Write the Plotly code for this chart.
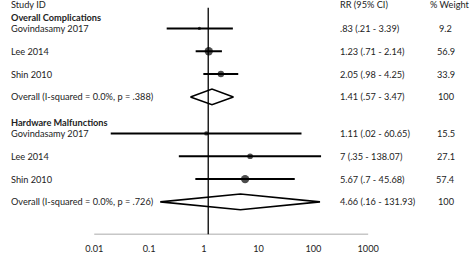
import plotly.graph_objects as go

# ---- data ----
groups = ["Overall Complications", "Hardware Malfunctions"]
studies = [
    ["Govindasamy 2017", "Lee 2014", "Shin 2010"],
    ["Govindasamy 2017", "Lee 2014", "Shin 2010"],
]
rr = [[0.83, 1.23, 2.05], [1.11, 7, 5.67]]
lo = [[0.21, 0.71, 0.98], [0.02, 0.35, 0.7]]
hi = [[3.39, 2.14, 4.25], [60.65, 138.07, 45.68]]
weights = [[9.2, 56.9, 33.9], [15.5, 27.1, 57.4]]
rr_text = [["1.41 (.57 - 3.47)"], ["4.66 (.16 - 131.93)"]]
ci_text = [
    [".83 (.21 - 3.39)", "1.23 (.71 - 2.14)", "2.05 (.98 - 4.25)"],
    ["1.11 (.02 - 60.65)", "7 (.35 - 138.07)", "5.67 (.7 - 45.68)"],
]
overall_label = ["Overall (I-squared = 0.0%, p = .388)", "Overall (I-squared = 0.0%, p = .726)"]
overall_rr = [1.41, 4.66]
overall_lo = [0.57, 0.16]
overall_hi = [3.47, 131.93]
overall_weight = ["100", "100"]
tick_vals = [0.01, 0.1, 1, 10, 100, 1000]
tick_text = ["0.01", "0.1", "1", "10", "100", "1000"]

# ---- layout helpers (pixel positions) ----
W, H = 474, 254
PLOT_H = 247
AXIS_Y = 239
ROW = 23.3
TOP = 29
group_offset = [0, 4.6]
FONT = "Lato"
FS = 9.2
TXT = "#222222"

def ypix(r):
    return TOP + r * ROW

fig = go.Figure()
ann = []

def text(x, y, s, bold=False, anchor="left"):
    ann.append(dict(x=x / W, y=y, xref="paper", yref="y", text=(f"<b>{s}</b>" if bold else s),
                    showarrow=False, xanchor=anchor, yanchor="middle",
                    font=dict(family=FONT, size=FS, color=TXT)))

text(0, 5, "Study ID")
text(343, 5, "RR (95% CI)")
text(437, 5, "% Weight")

for g in range(2):
    off = group_offset[g]
    text(0, ypix(off - 0.5), groups[g], bold=True)
    xs, ys = [], []
    mx, my, ms = [], [], []
    for i, s in enumerate(studies[g]):
        y = ypix(off + i)
        text(0, y, s)
        text(343, y, ci_text[g][i])
        text(456, y, f"{weights[g][i]}", anchor="center")
        xs += [lo[g][i], hi[g][i], None]
        ys += [y, y, None]
        mx.append(rr[g][i]); my.append(y); ms.append(1.1 * weights[g][i] ** 0.5)
    fig.add_trace(go.Scatter(x=xs, y=ys, mode="lines", line=dict(color="black", width=2),
                             hoverinfo="skip", showlegend=False))
    fig.add_trace(go.Scatter(x=mx, y=my, mode="markers",
                             marker=dict(color="black", size=ms, line=dict(width=0)),
                             showlegend=False))
    yo = ypix(off + 3)
    text(0, yo, overall_label[g])
    text(343, yo, rr_text[g][0])
    text(457, yo, overall_weight[g], anchor="center")
    hh = 8
    fig.add_trace(go.Scatter(
        x=[overall_lo[g], overall_rr[g], overall_hi[g], overall_rr[g], overall_lo[g]],
        y=[yo, yo - hh, yo, yo + hh, yo], mode="lines",
        line=dict(color="black", width=1.6), showlegend=False, hoverinfo="skip"))

# axis baseline
fig.add_shape(type="line", xref="x domain", yref="y", x0=0, x1=1, y0=AXIS_Y, y1=AXIS_Y,
              line=dict(color="#aaaaaa", width=1))
# null line
fig.add_shape(type="line", xref="paper", yref="y", x0=208 / W, x1=208 / W, y0=8, y1=AXIS_Y,
              line=dict(color="black", width=1.3))

fig.update_layout(
    width=W, height=H, margin=dict(l=0, r=0, t=0, b=H - PLOT_H),
    paper_bgcolor="white", plot_bgcolor="white",
    annotations=ann, showlegend=False,
    xaxis=dict(type="log", range=[-2, 3], domain=[89 / W, 375 / W],
               tickvals=tick_vals, ticktext=tick_text, showgrid=False, zeroline=False,
               showline=False, ticks="",
               tickfont=dict(family=FONT, size=FS, color=TXT)),
    yaxis=dict(range=[PLOT_H, 0], visible=False, showgrid=False, zeroline=False),
)

fig.write_html("out.html")
